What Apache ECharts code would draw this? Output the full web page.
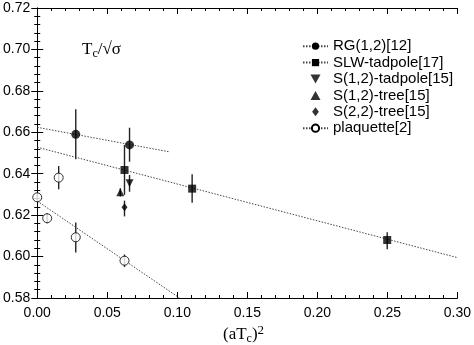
<!DOCTYPE html>
<html><head><meta charset="utf-8">
<script src="https://cdn.jsdelivr.net/npm/echarts@6/dist/echarts.min.js"></script>
<style>html,body{margin:0;padding:0;background:#fff}#c{width:474px;height:345px}</style>
</head><body><div id="c"></div>
<script>
// ---- data ----
const seriesNames = ['RG(1,2)[12]','SLW-tadpole[17]','S(1,2)-tadpole[15]','S(1,2)-tree[15]','S(2,2)-tree[15]','plaquette[2]'];
const xTicks = [0, 0.05, 0.10, 0.15, 0.20, 0.25, 0.30];
const yTicks = [0.58, 0.60, 0.62, 0.64, 0.66, 0.68, 0.70, 0.72];
// points: [x, y]
const rgPts = [[0.0275, 0.659], [0.0659, 0.6539]];
const slwPts = [[0.0623, 0.6418], [0.1106, 0.6328], [0.2499, 0.608]];
const s12tadPts = [[0.0659, 0.6354]];
const s12treePts = [[0.0593, 0.6310]];
const s22treePts = [[0.0623, 0.6238]];
const plaqPts = [[0.0, 0.6286], [0.0071, 0.6185], [0.0153, 0.6381], [0.0275, 0.6093], [0.0623, 0.5980]];
// error bars: [x, low, high]
const rgErr = [[0.0275, 0.6470, 0.6711], [0.0659, 0.6458, 0.6622]];
const slwErr = [[0.0623, 0.6298, 0.6539], [0.1106, 0.6260, 0.6397], [0.2499, 0.6035, 0.6117]];
const s12tadErr = [[0.0659, 0.6313, 0.6394]];
const s12treeErr = [[0.0593, 0.6290, 0.6330]];
const s22treeErr = [[0.0623, 0.6194, 0.6270]];
const plaqErr = [[0.0, 0.6272, 0.6300], [0.0071, 0.6161, 0.6209], [0.0153, 0.6325, 0.6437], [0.0275, 0.6020, 0.6164], [0.0623, 0.5950, 0.6010]];
// fit lines: [x, y]
const rgFit = [[0.0, 0.6624], [0.094, 0.6506]];
const slwFit = [[0.0, 0.6528], [0.30, 0.5995]];
const plaqFit = [[0.0, 0.6268], [0.1016, 0.58]];

const triDown = 'path://M0,0 L10,0 L5,9 Z';
const triUp = 'path://M5,0 L10,9 L0,9 Z';
const diamond = 'path://M3,0 L6,4 L3,8 L0,4 Z';

const chart = echarts.init(document.getElementById('c'));
const fitStyle = {type: [1.5, 1.5], width: 1, color: '#444'};
function errSeries(name, data) {
  return {
    type: 'custom', name: name, data: data, z: 1,
    encode: {x: 0, y: [1, 2]},
    renderItem: function (params, api) {
      const x = api.value(0);
      const p1 = api.coord([x, api.value(1)]);
      const p2 = api.coord([x, api.value(2)]);
      return {type: 'line', shape: {x1: p1[0], y1: p1[1], x2: p2[0], y2: p2[1]},
              style: {stroke: '#222', lineWidth: 1.4}};
    }
  };
}
function fitSeries(name, data, sym) {
  return {type: 'line', name: name, data: data, showSymbol: false, symbol: sym,
          lineStyle: fitStyle, itemStyle: {color: '#000'}, z: 2, silent: true};
}
function ptSeries(name, data, sym, size, style) {
  return {type: 'scatter', name: name, data: data, symbol: sym, symbolSize: size,
          itemStyle: style || {color: '#000'}, z: 3};
}
const axisCommon = {
  axisLine: {lineStyle: {color: '#000', width: 1}},
  axisTick: {inside: true, length: 6, lineStyle: {color: '#000'}},
  minorTick: {show: true, splitNumber: 5, length: 3, lineStyle: {color: '#000'}},
  splitLine: {show: false}
};
const option = {
  animation: false,
  grid: {left: 36, right: 13, top: 8, bottom: 47},
  xAxis: [
    Object.assign({type: 'value', min: xTicks[0], max: xTicks[xTicks.length - 1], interval: 0.05,
      axisLabel: {color: '#000', fontSize: 14, fontFamily: 'Liberation Sans', margin: 8,
                  formatter: v => v.toFixed(2)}}, axisCommon),
    Object.assign({type: 'value', position: 'top', min: xTicks[0], max: xTicks[xTicks.length - 1], interval: 0.05,
      axisLabel: {show: false}}, axisCommon)
  ],
  yAxis: [
    Object.assign({type: 'value', min: yTicks[0], max: yTicks[yTicks.length - 1], interval: 0.02,
      axisLabel: {color: '#000', fontSize: 14, fontFamily: 'Liberation Sans', margin: 7,
                  formatter: v => v.toFixed(2)}}, axisCommon),
    Object.assign({type: 'value', position: 'right', min: yTicks[0], max: yTicks[yTicks.length - 1], interval: 0.02,
      axisLabel: {show: false}}, axisCommon)
  ],
  legend: {
    orient: 'vertical', left: 297, top: 33.7, itemWidth: 25, itemHeight: 9, itemGap: 1.4,
    textStyle: {color: '#000', fontSize: 15, fontFamily: 'Liberation Sans'},
    data: [
      {name: seriesNames[0]}, {name: seriesNames[1]},
      {name: seriesNames[2], icon: triDown}, {name: seriesNames[3], icon: triUp},
      {name: seriesNames[4], icon: diamond}, {name: seriesNames[5]}
    ]
  },
  graphic: [
    {type: 'text', left: 82, top: 41, style: {
      text: 'T{sub|c}/√σ', fill: '#000', font: '17px "Liberation Serif"',
      rich: {sub: {fontSize: 12, fontFamily: 'Liberation Serif', fill: '#000', padding: [9, 0, 0, 0]}}}},
    {type: 'text', left: 223, top: 324, style: {
      text: '(aT{sub|c}){sup|2}', fill: '#000', font: '17px "Liberation Serif"',
      rich: {sub: {fontSize: 12, fontFamily: 'Liberation Serif', fill: '#000', padding: [9, 0, 0, 0]},
             sup: {fontSize: 13, fontFamily: 'Liberation Serif', fill: '#000', padding: [0, 0, 8, 0]}}}}
  ],
  series: [
    fitSeries(seriesNames[0], rgFit, 'circle'),
    fitSeries(seriesNames[1], slwFit, 'rect'),
    fitSeries(seriesNames[5], plaqFit, 'emptyCircle'),
    errSeries('e0', rgErr), errSeries('e1', slwErr), errSeries('e2', s12tadErr),
    errSeries('e3', s12treeErr), errSeries('e4', s22treeErr), errSeries('e5', plaqErr),
    ptSeries(seriesNames[0], rgPts, 'circle', 9),
    ptSeries(seriesNames[1], slwPts, 'rect', 8),
    ptSeries(seriesNames[2], s12tadPts, triDown, [8, 8]),
    ptSeries(seriesNames[3], s12treePts, triUp, [8, 8]),
    ptSeries(seriesNames[4], s22treePts, diamond, [6, 8]),
    ptSeries(seriesNames[5], plaqPts, 'circle', 9, {color: '#fff', borderColor: '#000', borderWidth: 1})
  ]
};
chart.setOption(option);
</script></body></html>
